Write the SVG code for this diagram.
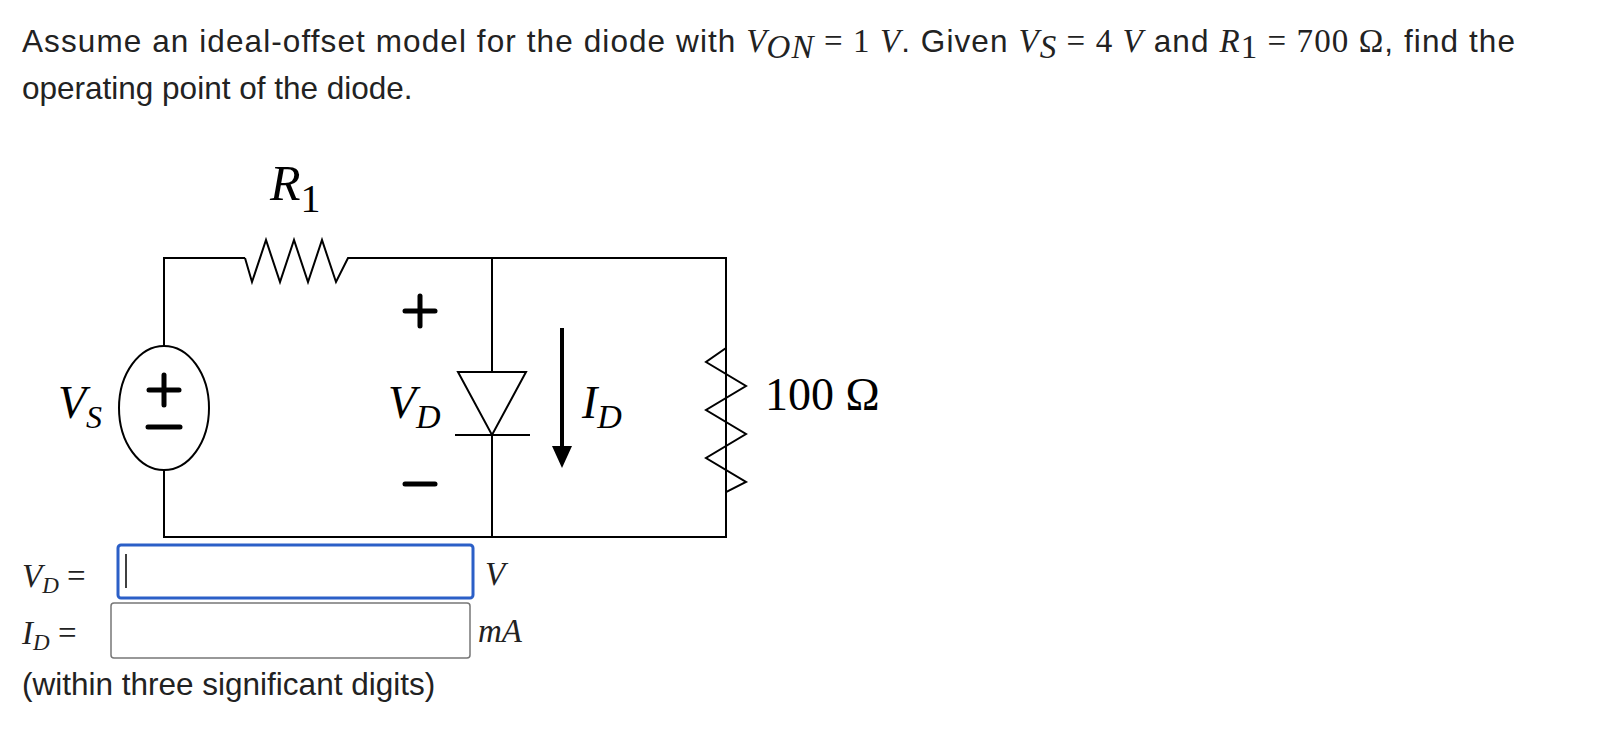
<svg xmlns="http://www.w3.org/2000/svg" width="1606" height="748" viewBox="0 0 1606 748">
<style>
.t{font-family:"Liberation Sans",Arial,sans-serif;font-size:31.5px;fill:#222}
.m{font-family:"Liberation Serif","DejaVu Serif",serif;font-size:33px;fill:#222}
.c{font-family:"Liberation Serif","DejaVu Serif",serif;font-style:italic;fill:#000}
.w{fill:none;stroke:#000;stroke-width:2}
.b{stroke:#000;stroke-width:5;stroke-linecap:round}
</style>
<rect width="1606" height="748" fill="#fff"/>
<text class="t" x="22" y="52" textLength="1493" lengthAdjust="spacing">Assume an ideal-offset model for the diode with <tspan class="m" font-style="italic">V</tspan><tspan class="m" font-style="italic" font-size="23" dy="6">ON</tspan><tspan class="m" dy="-6"> = 1 </tspan><tspan class="m" font-style="italic">V</tspan>. Given <tspan class="m" font-style="italic">V</tspan><tspan class="m" font-style="italic" font-size="23" dy="6">S</tspan><tspan class="m" dy="-6"> = 4 </tspan><tspan class="m" font-style="italic">V</tspan> and <tspan class="m" font-style="italic">R</tspan><tspan class="m" font-size="23" dy="6">1</tspan><tspan class="m" dy="-6"> = 700 Ω</tspan>, find the</text>
<text class="t" x="22" y="99">operating point of the diode.</text>
<g id="connectors">
<path class="w" d="M164,346 V258 H245 M355,258 H726 V537 H164 V470 M492,258 V372 M492,435 V537"/>
</g>
<g id="R1">
<polyline class="w" points="245,258 252,282 266,240 280,282 294,240 308,282 322,240 336,282 348,258 355,258"/>
<text class="c" x="270" y="200" font-size="50">R<tspan font-style="normal" font-size="40" dy="12">1</tspan></text>
</g>
<g id="Vs">
<ellipse class="w" cx="164" cy="408" rx="45" ry="62"/>
<line class="b" x1="164" y1="375" x2="164" y2="405"/><line class="b" x1="149" y1="390" x2="179" y2="390"/>
<line class="b" x1="148" y1="427" x2="180" y2="427"/>
<text class="c" x="58" y="418" font-size="46">V<tspan font-size="32" dy="10">S</tspan></text>
</g>
<g id="D">
<polygon class="w" points="458,372 526,372 492,435"/>
<line class="w" x1="455" y1="435" x2="530" y2="435"/>
<line class="b" x1="420" y1="296" x2="420" y2="326"/><line class="b" x1="405" y1="311" x2="435" y2="311"/>
<line class="b" x1="405" y1="484" x2="435" y2="484"/>
<text class="c" x="388" y="418" font-size="46">V<tspan font-size="34" dy="10">D</tspan></text>
</g>
<g id="ID">
<line x1="562" y1="328" x2="562" y2="450" stroke="#000" stroke-width="4"/>
<polygon points="552,446 572,446 562,468"/>
<text class="c" x="582" y="418" font-size="46">I<tspan font-size="34" dy="10">D</tspan></text>
</g>
<g id="R2">
<polyline class="w" points="726,345 726,348 706,362 746,386 706,410 746,434 706,458 746,482 726,492 726,500"/>
<text x="765" y="410" font-family="'Liberation Serif',serif" font-size="46">100 Ω</text>
</g>
<g id="form">
<text class="m" x="22" y="587" font-style="italic">V<tspan font-size="23" dy="6">D</tspan><tspan font-style="normal" dy="-6"> =</tspan></text>
<rect x="118" y="545" width="355" height="53" rx="3" fill="#fff" stroke="#2b5fc7" stroke-width="3"/>
<line x1="126" y1="554" x2="126" y2="588" stroke="#000" stroke-width="1.5"/>
<text class="m" x="485" y="585" font-style="italic">V</text>
<text class="m" x="22" y="644" font-style="italic">I<tspan font-size="23" dy="6">D</tspan><tspan font-style="normal" dy="-6"> =</tspan></text>
<rect x="111" y="603" width="359" height="55" rx="3" fill="#fff" stroke="#777" stroke-width="1.5"/>
<text class="m" x="478" y="642" font-style="italic">mA</text>
<text class="t" x="22" y="695">(within three significant digits)</text>
</g>
</svg>
